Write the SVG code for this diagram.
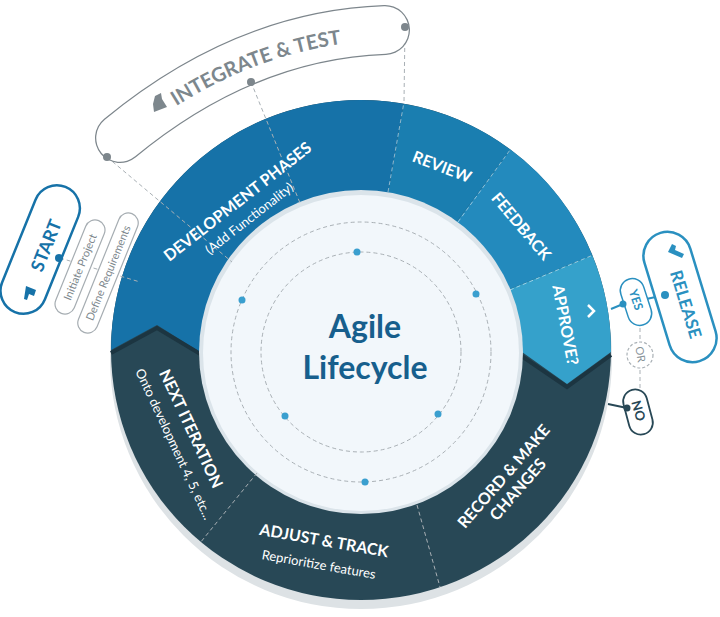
<svg xmlns="http://www.w3.org/2000/svg" width="720" height="617" viewBox="0 0 720 617">
<defs>
<style>
.t{font-family:Lato,"Liberation Sans",sans-serif;}
.w{fill:#fff;font-weight:bold;font-size:16px;text-anchor:middle;}
.ws{fill:#fff;font-size:13px;text-anchor:middle;}
.g{fill:#7d878d;font-size:11px;text-anchor:middle;}
.dash{fill:none;stroke:#a9b0b5;stroke-width:1;stroke-dasharray:4 3;}
.wdash{fill:none;stroke:#ffffff;stroke-opacity:0.5;stroke-width:1;stroke-dasharray:4 3;}
.dot{fill:#7d868c;}
</style>
<path id="ip" d="M 122,145 Q 245,45 385,40"/>
</defs>
<rect width="720" height="617" fill="#fff"/>

<g id="ring">
<circle cx="361" cy="358" r="251" fill="#dde2e5"/>
<circle cx="361" cy="350" r="250" fill="#284856"/>
<path id="dev" d="M361,350 L200,352 L157,325 L111,350 A250 250 0 0 1 403.5,103.7 Z" fill="#1672a8"/>
<path id="review" d="M361,350 L403.5,103.7 A250 250 0 0 1 510.5,149.5 Z" fill="#1a7eb0"/>
<path id="feedback" d="M361,350 L510.5,149.5 A250 250 0 0 1 592.3,255.2 Z" fill="#238abd"/>
<path id="approve" d="M361,350 L592.3,255.2 A250 250 0 0 1 611,352 L567,384 L522,352 Z" fill="#35a1cb"/>
<polyline points="111,353 157,328 202,355" fill="none" stroke="#1c3541" stroke-width="4"/>
<polyline points="611,355 567,387 520,355" fill="none" stroke="#1c3541" stroke-width="4"/>
<circle cx="361" cy="352" r="162" fill="#dbe4ea"/>
<circle cx="361" cy="353" r="158" fill="#f2f7fb"/>
<circle cx="361" cy="352" r="100" class="dash"/>
<circle cx="361" cy="352" r="130" class="dash"/>
<g fill="#3a9fcf">
<circle cx="357" cy="252" r="3.5"/><circle cx="242" cy="300" r="3.5"/><circle cx="476" cy="294" r="3.5"/>
<circle cx="285" cy="416" r="3.5"/><circle cx="438" cy="414" r="3.5"/><circle cx="365" cy="482" r="3.5"/>
</g>
</g>

<g id="connectors">
<line x1="388" y1="192" x2="404" y2="102" class="wdash"/>
<line x1="458" y1="222" x2="510" y2="150" class="wdash"/>
<line x1="510" y1="290" x2="593" y2="255" class="wdash"/>
<line x1="257" y1="473" x2="200" y2="543" class="dash"/>
<line x1="417" y1="505" x2="440" y2="587" class="dash"/>
<line x1="107" y1="157" x2="232" y2="262" class="dash"/>
<line x1="251" y1="82" x2="300" y2="203" class="dash"/>
<line x1="405" y1="27" x2="404" y2="102" class="dash"/>
<line x1="60" y1="258" x2="140" y2="282" class="dash"/>
<line x1="640" y1="314" x2="640" y2="398" class="dash" stroke="#9aa5ab"/>
<polyline points="611,309 623,304 665,295" fill="none" stroke="#2a90c0" stroke-width="2"/>
<line x1="608" y1="404" x2="627" y2="408" stroke="#284856" stroke-width="2"/>
</g>

<g id="integrate">
<path d="M120,138 Q245,35 385,30" fill="none" stroke="#7d868c" stroke-width="50" stroke-linecap="round"/>
<path d="M120,138 Q245,35 385,30" fill="none" stroke="#fff" stroke-width="47.5" stroke-linecap="round"/>
<circle cx="107" cy="157" r="4" class="dot"/><circle cx="251" cy="82" r="4" class="dot"/><circle cx="405" cy="27" r="4" class="dot"/>
<path d="M155,96 L161,93 L162,99 L167,107 L154,112 L153,104 Z" fill="#7d878d"/>
<text class="t" font-weight="bold" font-size="20" fill="#7d878d" text-anchor="middle"><textPath href="#ip" startOffset="54%">INTEGRATE &amp; TEST</textPath></text>
</g>

<g id="start">
<rect x="-27" y="-23" width="135" height="46" rx="23" transform="translate(40,250) rotate(-68) translate(-40,0)" fill="#fff" stroke="#1672a8" stroke-width="2.5"/>
<circle cx="59" cy="258" r="4" fill="#1672a8"/>
<text class="t" font-weight="bold" font-size="18" fill="#1672a8" text-anchor="middle" transform="translate(52,248) rotate(-68)">START</text>
<path d="M26,286 L36,290 L34,296 L29,294 L27,300 L24,299 Z" fill="#1672a8"/>
</g>
<g id="initiate">
<rect x="-50" y="-10" width="100" height="20" rx="10" transform="translate(80,267) rotate(-68)" fill="#fff" stroke="#a6adb2" stroke-width="1.2"/>
<text class="t g" transform="translate(80,267) rotate(-68) translate(0,4)">Initiate Project</text>
</g>
<g id="define">
<rect x="-64" y="-10" width="128" height="20" rx="10" transform="translate(108,273) rotate(-68)" fill="#fff" stroke="#a6adb2" stroke-width="1.2"/>
<text class="t g" transform="translate(108,273) rotate(-68) translate(0,4)">Define Requirements</text>
</g>

<g id="release">
<rect x="-67" y="-24" width="134" height="48" rx="24" transform="translate(680,297) rotate(73)" fill="#fff" stroke="#2a90c0" stroke-width="2.5"/>
<circle cx="665" cy="295" r="4" fill="#2a90c0"/>
<path d="M668,252 L672,244 L676,246 L675,250 L684,254 L682,258 Z" fill="#2a90c0"/>
<text class="t" font-weight="bold" font-size="17" fill="#2a90c0" text-anchor="middle" transform="translate(680,306) rotate(73)">RELEASE</text>
</g>
<g id="yes">
<rect x="-24" y="-12" width="48" height="24" rx="12" transform="translate(636,302) rotate(72)" fill="#fff" stroke="#2a90c0" stroke-width="1.5"/>
<circle cx="623" cy="304" r="3.5" fill="#2a90c0"/>
<text class="t" font-weight="bold" font-size="12" fill="#2a90c0" text-anchor="middle" transform="translate(632,301) rotate(72)">YES</text>
</g>
<g id="or">
<circle cx="640" cy="355" r="13" fill="#fff" stroke="#a9b0b5" stroke-width="1.2" stroke-dasharray="3 2"/>
<text class="t" font-size="11" fill="#8a949a" text-anchor="middle" transform="translate(636.5,355) rotate(80)">OR</text>
</g>
<g id="no">
<rect x="-23" y="-12" width="46" height="24" rx="12" transform="translate(638,412) rotate(75)" fill="#fff" stroke="#284856" stroke-width="1.8"/>
<circle cx="627" cy="408" r="3.5" fill="#284856"/>
<text class="t" font-weight="bold" font-size="13" fill="#284856" text-anchor="middle" transform="translate(634,412) rotate(75)">NO</text>
</g>

<g id="labels">
<g id="lbl-dev">
<text class="t w" font-size="17" transform="translate(241,206) rotate(-38)">DEVELOPMENT PHASES</text>
<text class="t ws" font-size="14" transform="translate(252,222) rotate(-38)">(Add Functionality)</text>
</g>
<text id="lbl-review" class="t w" transform="translate(440,172) rotate(21)">REVIEW</text>
<text id="lbl-feedback" class="t w" transform="translate(517,230) rotate(50)">FEEDBACK</text>
<text id="lbl-approve" class="t w" font-size="15" transform="translate(560,326) rotate(79)">APPROVE?</text>
<path d="M588,305 L594,311 L588,317" fill="none" stroke="#fff" stroke-width="2.5"/>
<g id="lbl-next">
<text class="t w" transform="translate(186,431) rotate(65)">NEXT ITERATION</text>
<text class="t ws" transform="translate(170,446) rotate(65)">Onto development 4, 5, etc...</text>
</g>
<g id="lbl-adjust">
<text class="t w" transform="translate(323,546) rotate(10)">ADJUST &amp; TRACK</text>
<text class="t ws" transform="translate(318,569) rotate(10)">Reprioritize features</text>
</g>
<g id="lbl-record">
<text class="t w" transform="translate(508,480) rotate(-49)">RECORD &amp; MAKE</text>
<text class="t w" transform="translate(522,493) rotate(-49)">CHANGES</text>
</g>
<g id="center">
<text class="t" font-weight="bold" font-size="32" fill="#175f8d" text-anchor="middle" x="365" y="338">Agile</text>
<text class="t" font-weight="bold" font-size="32" fill="#175f8d" text-anchor="middle" x="365" y="379">Lifecycle</text>
</g>
</g>
</svg>
